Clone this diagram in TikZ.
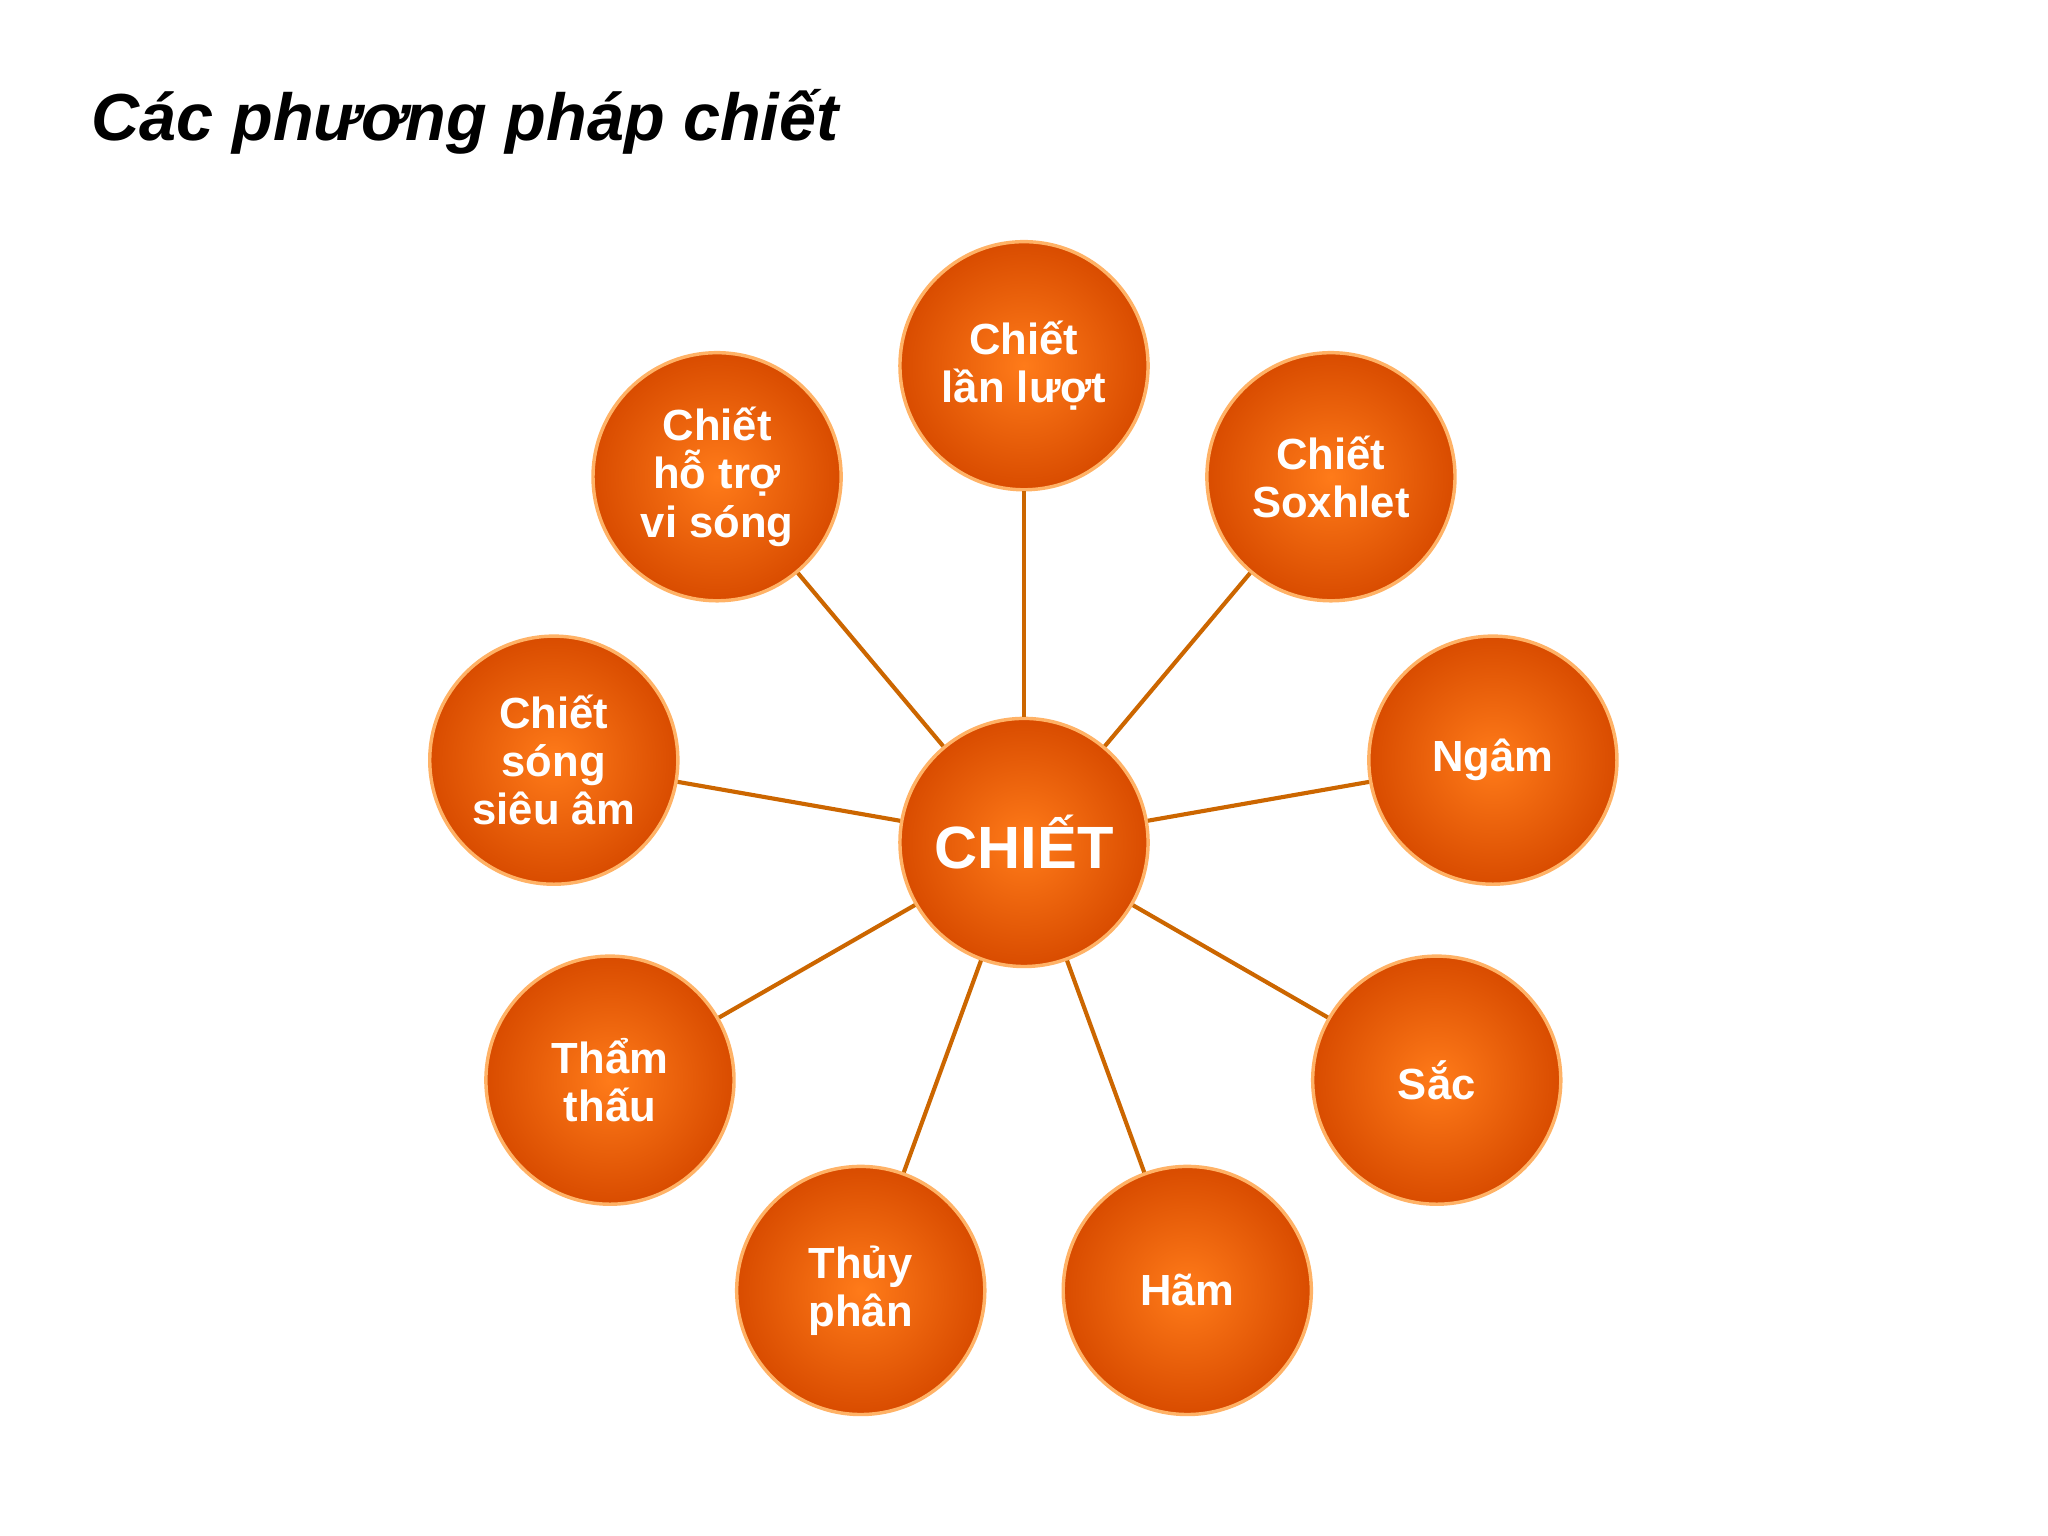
\documentclass[tikz,border=0pt]{standalone}
\usepackage{fontspec}
\setmainfont{Liberation Sans}
\begin{document}
\begin{tikzpicture}[x=0.02cm,y=-0.02cm,
  ball/.style={circle,minimum size=3.8cm,inner sep=0pt,draw=orange!60!white,line width=1.5pt,
    inner color=orange!85!red!90!white,outer color=orange!70!red!85!black,
    text=white,font=\fontsize{19}{21}\selectfont\bfseries,align=center},
  link/.style={draw=orange!80!black,line width=1.8pt}]
\useasboundingbox (0,0) rectangle (1568,1176);
\node[anchor=west,inner sep=0pt,font=\fontsize{29}{32}\selectfont\bfseries\itshape] (title) at (70,93) {Các phương pháp chiết};
\node[ball] (c) at (784,645) {\fontsize{26}{28}\selectfont CHIẾT};
\node[ball] (a1) at (784,280) {Chiết\\lần lượt};
\node[ball] (a2) at (1019,365) {Chiết\\Soxhlet};
\node[ball] (a3) at (1143,582) {Ngâm};
\node[ball] (a4) at (1100,827) {Sắc};
\node[ball] (a5) at (909,988) {Hãm};
\node[ball] (a6) at (659,988) {Thủy\\phân};
\node[ball] (a7) at (467,827) {Thẩm\\thấu};
\node[ball] (a8) at (424,582) {Chiết\\sóng\\siêu âm};
\node[ball] (a9) at (549,365) {Chiết\\hỗ trợ\\vi sóng};
\foreach \n in {a1,a2,a3,a4,a5,a6,a7,a8,a9}
  \path[link] (c) -- (\n);
\end{tikzpicture}
\end{document}
